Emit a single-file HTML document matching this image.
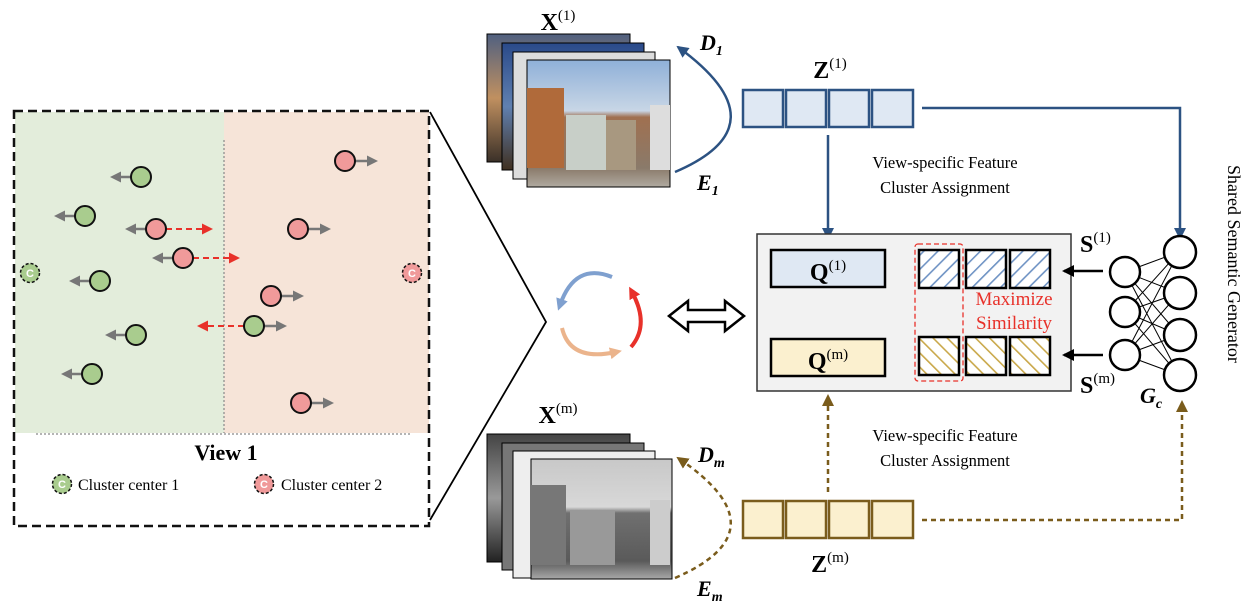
<!DOCTYPE html>
<html><head><meta charset="utf-8"><style>
html,body{margin:0;padding:0;background:#fff;}
svg{display:block;}
text{font-family:"Liberation Serif",serif;}
</style></head><body>
<svg width="1246" height="606" viewBox="0 0 1246 606" xmlns="http://www.w3.org/2000/svg">
<defs>
<marker id="ag" markerWidth="11" markerHeight="11" refX="8" refY="5.5" orient="auto" markerUnits="userSpaceOnUse"><path d="M0,0 L11,5.5 L0,11 z" fill="#777"/></marker>
<marker id="ar" markerWidth="11" markerHeight="11" refX="9" refY="5.5" orient="auto" markerUnits="userSpaceOnUse"><path d="M0,0 L11,5.5 L0,11 z" fill="#e8312a"/></marker>
<marker id="ab" markerWidth="12" markerHeight="12" refX="10" refY="6" orient="auto" markerUnits="userSpaceOnUse"><path d="M0,0 L12,6 L0,12 z" fill="#2c5282"/></marker>
<marker id="ao" markerWidth="12" markerHeight="12" refX="10" refY="6" orient="auto" markerUnits="userSpaceOnUse"><path d="M0,0 L12,6 L0,12 z" fill="#7a5c1c"/></marker>
<marker id="ak" markerWidth="12" markerHeight="12" refX="10" refY="6" orient="auto" markerUnits="userSpaceOnUse"><path d="M0,0 L12,6 L0,12 z" fill="#000"/></marker>
<marker id="c1" markerWidth="12" markerHeight="12" refX="6" refY="6" orient="auto" markerUnits="userSpaceOnUse"><path d="M0,0 L12,6 L0,12 z" fill="#7fa0cf"/></marker>
<marker id="c2" markerWidth="12" markerHeight="12" refX="6" refY="6" orient="auto" markerUnits="userSpaceOnUse"><path d="M0,0 L12,6 L0,12 z" fill="#ebb48c"/></marker>
<marker id="c3" markerWidth="12" markerHeight="12" refX="6" refY="6" orient="auto" markerUnits="userSpaceOnUse"><path d="M0,0 L12,6 L0,12 z" fill="#e8312a"/></marker>
<pattern id="hb" width="10" height="10" patternUnits="userSpaceOnUse" patternTransform="rotate(45)"><rect width="10" height="10" fill="#fff"/><rect width="1.6" height="10" fill="#6f93c4"/></pattern>
<pattern id="hy" width="10" height="10" patternUnits="userSpaceOnUse" patternTransform="rotate(-45)"><rect width="10" height="10" fill="#fff"/><rect width="1.6" height="10" fill="#c9a84a"/></pattern>
<linearGradient id="sky" x1="0" y1="0" x2="0" y2="1"><stop offset="0" stop-color="#8fb0d8"/><stop offset="0.4" stop-color="#c8d6e6"/><stop offset="0.45" stop-color="#a07050"/><stop offset="0.85" stop-color="#8a7a6a"/><stop offset="1" stop-color="#b0aaa0"/></linearGradient>
<linearGradient id="sky2" x1="0" y1="0" x2="0" y2="1"><stop offset="0" stop-color="#2a4a8a"/><stop offset="0.5" stop-color="#6080b0"/><stop offset="1" stop-color="#403020"/></linearGradient>
<linearGradient id="sky3" x1="0" y1="0" x2="0" y2="1"><stop offset="0" stop-color="#506080"/><stop offset="0.5" stop-color="#c09060"/><stop offset="1" stop-color="#3a3028"/></linearGradient>
<linearGradient id="gr" x1="0" y1="0" x2="0" y2="1"><stop offset="0" stop-color="#c8c8c8"/><stop offset="0.4" stop-color="#d8d8d8"/><stop offset="0.45" stop-color="#707070"/><stop offset="0.85" stop-color="#5a5a5a"/><stop offset="1" stop-color="#a8a8a8"/></linearGradient>
<linearGradient id="gr2" x1="0" y1="0" x2="0" y2="1"><stop offset="0" stop-color="#444"/><stop offset="0.5" stop-color="#999"/><stop offset="1" stop-color="#222"/></linearGradient>
</defs>

<!-- left view box -->
<rect x="15" y="112" width="209" height="321" fill="#e3eddb"/>
<rect x="224" y="112" width="205" height="321" fill="#f6e4d8"/>
<line x1="224" y1="140" x2="224" y2="433" stroke="#888" stroke-width="1.2" stroke-dasharray="2,2"/>
<line x1="36" y1="434" x2="412" y2="434" stroke="#888" stroke-width="1.2" stroke-dasharray="2,2"/>
<rect x="14" y="111" width="415" height="415" fill="none" stroke="#111" stroke-width="2.5" stroke-dasharray="9,5"/>
<polyline points="430,112 546,322 430,520" fill="none" stroke="#000" stroke-width="1.8"/>

<g stroke="#777" stroke-width="2.5" fill="none">
<line x1="131" y1="177" x2="113" y2="177" marker-end="url(#ag)"/>
<line x1="75" y1="216" x2="57" y2="216" marker-end="url(#ag)"/>
<line x1="146" y1="229" x2="128" y2="229" marker-end="url(#ag)"/>
<line x1="173" y1="258" x2="155" y2="258" marker-end="url(#ag)"/>
<line x1="90" y1="281" x2="72" y2="281" marker-end="url(#ag)"/>
<line x1="126" y1="335" x2="108" y2="335" marker-end="url(#ag)"/>
<line x1="82" y1="374" x2="64" y2="374" marker-end="url(#ag)"/>
<line x1="355" y1="161" x2="375" y2="161" marker-end="url(#ag)"/>
<line x1="308" y1="229" x2="328" y2="229" marker-end="url(#ag)"/>
<line x1="281" y1="296" x2="301" y2="296" marker-end="url(#ag)"/>
<line x1="264" y1="326" x2="284" y2="326" marker-end="url(#ag)"/>
<line x1="311" y1="403" x2="331" y2="403" marker-end="url(#ag)"/>
</g>
<g stroke="#e8312a" stroke-width="2" stroke-dasharray="6,4" fill="none">
<line x1="166" y1="229" x2="211" y2="229" marker-end="url(#ar)"/>
<line x1="193" y1="258" x2="238" y2="258" marker-end="url(#ar)"/>
<line x1="244" y1="326" x2="199" y2="326" marker-end="url(#ar)"/>
</g>
<g stroke="#111" stroke-width="2">
<circle cx="141" cy="177" r="10" fill="#a9cc8e"/>
<circle cx="85" cy="216" r="10" fill="#a9cc8e"/>
<circle cx="100" cy="281" r="10" fill="#a9cc8e"/>
<circle cx="136" cy="335" r="10" fill="#a9cc8e"/>
<circle cx="92" cy="374" r="10" fill="#a9cc8e"/>
<circle cx="254" cy="326" r="10" fill="#a9cc8e"/>
<circle cx="156" cy="229" r="10" fill="#f09a9a"/>
<circle cx="183" cy="258" r="10" fill="#f09a9a"/>
<circle cx="345" cy="161" r="10" fill="#f09a9a"/>
<circle cx="298" cy="229" r="10" fill="#f09a9a"/>
<circle cx="271" cy="296" r="10" fill="#f09a9a"/>
<circle cx="301" cy="403" r="10" fill="#f09a9a"/>
</g>
<g stroke="#111" stroke-width="1.5" stroke-dasharray="3,2">
<circle cx="30" cy="273" r="9.5" fill="#a9cc8e"/>
<circle cx="412" cy="273" r="9.5" fill="#f09a9a"/>
<circle cx="62" cy="484" r="9.5" fill="#a9cc8e"/>
<circle cx="264" cy="484" r="9.5" fill="#f09a9a"/>
</g>
<g font-weight="bold" font-size="11" fill="#fff" text-anchor="middle">
<text x="30" y="277" style="font-family:'Liberation Sans',sans-serif">C</text>
<text x="412" y="277" style="font-family:'Liberation Sans',sans-serif">C</text>
<text x="62" y="488" style="font-family:'Liberation Sans',sans-serif">C</text>
<text x="264" y="488" style="font-family:'Liberation Sans',sans-serif">C</text>
</g>
<text x="226" y="460" font-size="22" font-weight="bold" text-anchor="middle">View 1</text>
<text x="78" y="490" font-size="16">Cluster center 1</text>
<text x="281" y="490" font-size="16">Cluster center 2</text>

<!-- top images -->
<rect x="487" y="34" width="143" height="128" fill="url(#sky3)" stroke="#000" stroke-width="1"/>
<rect x="502" y="43" width="142" height="127" fill="url(#sky2)" stroke="#000" stroke-width="1"/>
<rect x="513" y="52" width="142" height="127" fill="#ddd" stroke="#000" stroke-width="1"/>
<rect x="527" y="60" width="143" height="127" fill="url(#sky)" stroke="#000" stroke-width="1"/>
<rect x="527" y="88" width="37" height="80" fill="#b06a3a"/>
<rect x="566" y="115" width="40" height="55" fill="#c8cfc8"/>
<rect x="606" y="120" width="30" height="50" fill="#a89880"/>
<rect x="650" y="105" width="20" height="65" fill="#ddd"/>
<text x="558" y="30" font-size="24" font-weight="bold" text-anchor="middle">X<tspan font-size="15" font-weight="normal" dy="-10">(1)</tspan></text>
<path d="M675,172 Q785,125 678,47" fill="none" stroke="#2c5282" stroke-width="2.5" marker-end="url(#ab)"/>
<text x="700" y="50" font-size="22" font-weight="bold" font-style="italic">D<tspan font-size="14" dy="5">1</tspan></text>
<text x="697" y="190" font-size="22" font-weight="bold" font-style="italic">E<tspan font-size="14" dy="5">1</tspan></text>

<!-- bottom images -->
<rect x="487" y="434" width="143" height="128" fill="url(#gr2)" stroke="#000" stroke-width="1"/>
<rect x="502" y="443" width="142" height="127" fill="#777" stroke="#000" stroke-width="1"/>
<rect x="513" y="451" width="142" height="127" fill="#eee" stroke="#000" stroke-width="1"/>
<rect x="531" y="459" width="141" height="120" fill="url(#gr)" stroke="#000" stroke-width="1"/>
<rect x="531" y="485" width="35" height="80" fill="#777"/>
<rect x="570" y="510" width="45" height="55" fill="#999"/>
<rect x="650" y="500" width="20" height="65" fill="#ccc"/>
<text x="558" y="423" font-size="24" font-weight="bold" text-anchor="middle">X<tspan font-size="15" font-weight="normal" dy="-10">(m)</tspan></text>
<path d="M675,578 Q785,530 678,458" fill="none" stroke="#7a5c1c" stroke-width="2.5" stroke-dasharray="5,4" marker-end="url(#ao)"/>
<text x="698" y="462" font-size="22" font-weight="bold" font-style="italic">D<tspan font-size="14" dy="5">m</tspan></text>
<text x="697" y="596" font-size="22" font-weight="bold" font-style="italic">E<tspan font-size="14" dy="5">m</tspan></text>

<!-- Z boxes -->
<g fill="#dfe8f3" stroke="#2c5282" stroke-width="2.5">
<rect x="743" y="90" width="40" height="37"/><rect x="786" y="90" width="40" height="37"/><rect x="829" y="90" width="40" height="37"/><rect x="872" y="90" width="41" height="37"/>
</g>
<text x="830" y="78" font-size="24" font-weight="bold" text-anchor="middle">Z<tspan font-size="15" font-weight="normal" dy="-10">(1)</tspan></text>
<g fill="#fbf0cf" stroke="#7a5c1c" stroke-width="2.5">
<rect x="743" y="501" width="40" height="37"/><rect x="786" y="501" width="40" height="37"/><rect x="829" y="501" width="40" height="37"/><rect x="872" y="501" width="41" height="37"/>
</g>
<text x="830" y="572" font-size="24" font-weight="bold" text-anchor="middle">Z<tspan font-size="15" font-weight="normal" dy="-10">(m)</tspan></text>

<line x1="828" y1="135" x2="828" y2="238" stroke="#2c5282" stroke-width="2.5" marker-end="url(#ab)"/>
<polyline points="922,108 1180,108 1180,238" fill="none" stroke="#2c5282" stroke-width="2.5" marker-end="url(#ab)"/>
<line x1="828" y1="492" x2="828" y2="396" stroke="#7a5c1c" stroke-width="2.5" stroke-dasharray="5,4" marker-end="url(#ao)"/>
<polyline points="922,520 1182,520 1182,402" fill="none" stroke="#7a5c1c" stroke-width="2.5" stroke-dasharray="5,4" marker-end="url(#ao)"/>

<text x="945" y="168" font-size="16.5" text-anchor="middle">View-specific Feature</text>
<text x="945" y="193" font-size="16.5" text-anchor="middle">Cluster Assignment</text>
<text x="945" y="441" font-size="16.5" text-anchor="middle">View-specific Feature</text>
<text x="945" y="466" font-size="16.5" text-anchor="middle">Cluster Assignment</text>

<!-- main box -->
<rect x="757" y="234" width="314" height="157" fill="#f2f2f2" stroke="#333" stroke-width="1.5"/>
<rect x="771" y="250" width="114" height="37" fill="#dfe8f3" stroke="#000" stroke-width="2.5"/>
<text x="828" y="280" font-size="24" font-weight="bold" text-anchor="middle">Q<tspan font-size="15" font-weight="normal" dy="-10">(1)</tspan></text>
<rect x="771" y="339" width="114" height="37" fill="#fbf0cf" stroke="#000" stroke-width="2.5"/>
<text x="828" y="369" font-size="24" font-weight="bold" text-anchor="middle">Q<tspan font-size="15" font-weight="normal" dy="-10">(m)</tspan></text>
<g stroke="#000" stroke-width="2.5">
<rect x="919" y="250" width="40" height="38" fill="url(#hb)"/>
<rect x="966" y="250" width="40" height="38" fill="url(#hb)"/>
<rect x="1010" y="250" width="40" height="38" fill="url(#hb)"/>
<rect x="919" y="337" width="40" height="38" fill="url(#hy)"/>
<rect x="966" y="337" width="40" height="38" fill="url(#hy)"/>
<rect x="1010" y="337" width="40" height="38" fill="url(#hy)"/>
</g>
<rect x="915" y="244" width="48" height="137" rx="3" fill="none" stroke="#e8312a" stroke-width="1.3" stroke-dasharray="5,3"/>
<text x="1014" y="305" font-size="19" fill="#e8312a" text-anchor="middle">Maximize</text>
<text x="1014" y="329" font-size="19" fill="#e8312a" text-anchor="middle">Similarity</text>

<!-- network -->
<line x1="1103" y1="271" x2="1064" y2="271" stroke="#000" stroke-width="2.5" marker-end="url(#ak)"/>
<line x1="1103" y1="355" x2="1064" y2="355" stroke="#000" stroke-width="2.5" marker-end="url(#ak)"/>
<text x="1080" y="252" font-size="24" font-weight="bold">S<tspan font-size="15" font-weight="normal" dy="-10">(1)</tspan></text>
<text x="1080" y="393" font-size="24" font-weight="bold">S<tspan font-size="15" font-weight="normal" dy="-10">(m)</tspan></text>
<g stroke="#000" stroke-width="1">
<line x1="1125" y1="272" x2="1179" y2="252"/><line x1="1125" y1="272" x2="1179" y2="293"/><line x1="1125" y1="272" x2="1179" y2="335"/><line x1="1125" y1="272" x2="1179" y2="375"/>
<line x1="1125" y1="312" x2="1179" y2="252"/><line x1="1125" y1="312" x2="1179" y2="293"/><line x1="1125" y1="312" x2="1179" y2="335"/><line x1="1125" y1="312" x2="1179" y2="375"/>
<line x1="1125" y1="355" x2="1179" y2="252"/><line x1="1125" y1="355" x2="1179" y2="293"/><line x1="1125" y1="355" x2="1179" y2="335"/><line x1="1125" y1="355" x2="1179" y2="375"/>
</g>
<g stroke="#000" stroke-width="2.5" fill="#fff">
<circle cx="1125" cy="272" r="15"/><circle cx="1125" cy="312" r="15"/><circle cx="1125" cy="355" r="15"/>
<circle cx="1180" cy="252" r="16"/><circle cx="1180" cy="293" r="16"/><circle cx="1180" cy="335" r="16"/><circle cx="1180" cy="375" r="16"/>
</g>
<text x="1140" y="403" font-size="22" font-weight="bold" font-style="italic">G<tspan font-size="14" dy="5">c</tspan></text>
<text transform="translate(1228,165) rotate(90)" font-size="18">Shared Semantic Generator</text>

<!-- cycle -->
<path d="M612,277 Q575,262 560,305" fill="none" stroke="#7fa0cf" stroke-width="4" marker-end="url(#c1)"/>
<path d="M562,328 Q570,362 616,352" fill="none" stroke="#ebb48c" stroke-width="4" marker-end="url(#c2)"/>
<path d="M631,347 Q650,325 632,292" fill="none" stroke="#e8312a" stroke-width="4" marker-end="url(#c3)"/>
<!-- double arrow -->
<path d="M669,316 L688,301 L688,310 L725,310 L725,301 L744,316 L725,331 L725,322 L688,322 L688,331 Z" fill="#fff" stroke="#000" stroke-width="2.5"/>
</svg>
</body></html>
